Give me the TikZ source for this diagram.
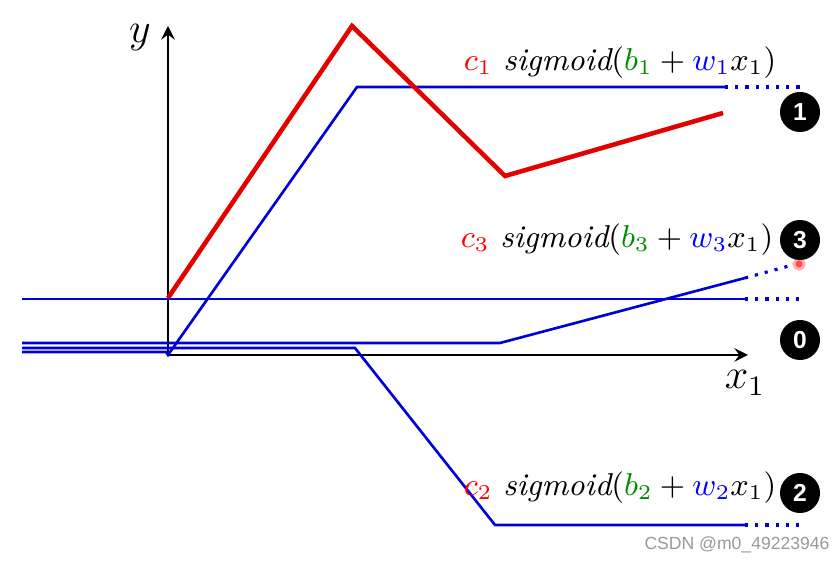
\documentclass[tikz,border=0pt]{standalone}
\usepackage{fontspec}
\setsansfont{Liberation Sans}
\begin{document}
\begin{tikzpicture}[x=0.01cm,y=-0.01cm,
  bl/.style={draw=blue!85!black,line width=0.75pt},
  dots/.style={draw=blue!85!black,line width=0.9pt,dotted},
  rd/.style={draw=red!90!black,line width=1.3pt},
  num/.style={circle,fill=black,text=white,minimum size=0.4cm,inner sep=0pt,font=\sffamily\bfseries\scriptsize},
  lab/.style={font=\small}]
\useasboundingbox (0,0) rectangle (840,562);
\coordinate (o) at (168,355);
\coordinate (xe) at (748,355);
\coordinate (ye) at (168,26);
\draw[line width=0.7pt,-stealth] (o) -- (xe);
\draw[line width=0.7pt,-stealth] (o) -- (ye);
\node[font=\large] (yl) at (140,38) {$y$};
\node[font=\large] (xl) at (745,383) {$x_1$};
% curves
\coordinate (a1) at (168,355); \coordinate (a2) at (357,87); \coordinate (a3) at (725,87); \coordinate (a4) at (800,87);
\draw[bl] (22,352) -- (166,352) -- (a1) -- (a2) -- (a3); \draw[dots] (a3) -- (a4);
\coordinate (h1) at (22,299); \coordinate (h2) at (745,299); \coordinate (h3) at (800,299);
\draw[bl] (h1) -- (h2); \draw[dots] (h2) -- (h3);
\coordinate (t1) at (22,343); \coordinate (t2) at (500,343); \coordinate (t3) at (745,278); \coordinate (t4) at (800,263);
\draw[bl] (t1) -- (t2) -- (t3); \draw[dots] (t3) -- (t4);
\coordinate (s1) at (22,348); \coordinate (s2) at (355,348); \coordinate (s3) at (495,525); \coordinate (s4) at (745,525); \coordinate (s5) at (800,525);
\draw[bl] (s1) -- (s2) -- (s3) -- (s4); \draw[dots] (s4) -- (s5);
\coordinate (r1) at (168,298); \coordinate (r2) at (352,26); \coordinate (r3) at (505,176); \coordinate (r4) at (723,113);
\draw[rd] (r1) -- (r2) -- (r3) -- (r4);
\node[circle,fill=red!70,inner sep=0pt,minimum size=3pt,draw=red!30,line width=0.8pt] (rdot) at (799,264) {};
% labels
\newcommand{\lb}[1]{$\textcolor{red}{c_#1}\ \mathit{sigmoid}(\textcolor{green!55!black}{b_#1}+\textcolor{blue}{w_#1}x_1)$}
\node[lab] (l1) at (620,63) {\lb1};
\node[lab] (l3) at (617,240) {\lb3};
\node[lab] (l2) at (620,488) {\lb2};
\node[num] (n1) at (800,112) {1};
\node[num] (n3) at (800,240) {3};
\node[num] (n0) at (800,340) {0};
\node[num] (n2) at (800,493) {2};
\node[font=\sffamily\tiny,text=gray!80] (wm) at (737,545) {CSDN @m0\_49223946};
\end{tikzpicture}
\end{document}
